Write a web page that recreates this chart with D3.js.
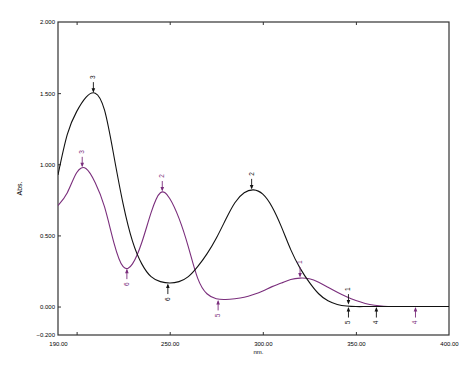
<!DOCTYPE html>
<html>
<head>
<meta charset="utf-8">
<script src="https://cdn.jsdelivr.net/npm/d3@7"></script>
<style>
  body { margin: 0; background: #fff; }
  svg { display: block; font-family: "Liberation Sans", Arial, sans-serif; }
  .axis path, .axis line { stroke: #333; }
  .axis text { font-size: 6px; fill: #000; }
</style>
</head>
<body>
<div id="chart"></div>
<script>
const W = 474, H = 365;
const margin = {top: 22, right: 25, bottom: 30, left: 58};

// wavelength grid (nm)
const wavelengths = [190,195,200,205,210,215,220,225,230,235,240,245,250,255,260,265,270,275,280,285,
                     290,295,300,305,310,315,320,325,330,335,340,345,350,355,360,365,370,375,380,385,
                     390,395,400];

// black spectrum
const absBlack = [0.925,1.21,1.37,1.47,1.50,1.38,1.06,0.72,0.46,0.30,0.21,0.175,0.165,0.175,0.21,0.28,
                  0.37,0.48,0.61,0.73,0.80,0.82,0.79,0.70,0.56,0.40,0.27,0.17,0.09,0.04,0.015,0.004,
                  0,0,0,0,0,0,0,0,0,0,0];

// purple spectrum
const absPurple = [0.71,0.80,0.94,0.97,0.87,0.70,0.45,0.28,0.30,0.45,0.66,0.80,0.76,0.62,0.42,0.20,
                   0.09,0.055,0.05,0.055,0.065,0.085,0.11,0.14,0.165,0.19,0.20,0.195,0.17,0.135,0.10,
                   0.068,0.042,0.022,0.009,0.002,0,0,0,0,0,0,0];

// peak / valley markers: label, wavelength, absorbance, peak?
const marksBlack = [
  ["3", 209, 1.50, true], ["6", 249, 0.165, false], ["2", 294, 0.82, true],
  ["1", 346, 0.01, true], ["5", 346, 0.0, false], ["4", 361, 0.0, false]
];
const marksPurple = [
  ["3", 203, 0.975, true], ["6", 227, 0.27, false], ["2", 246, 0.805, true],
  ["5", 276, 0.05, false], ["1", 320, 0.20, true], ["4", 382, 0.0, false]
];

const xLabels = [190, 250, 300, 350, 400];
const xTicks  = [200, 250, 300, 350];
const yLabels = [2.0, 1.5, 1.0, 0.5, 0.0, -0.2];
const yTicks  = [1.5, 1.0, 0.5, 0.0];

const colBlack = "#111", colPurple = "#7a2e7c";

const svg = d3.select("#chart").append("svg").attr("width", W).attr("height", H);

const x = d3.scaleLinear().domain([190, 400]).range([margin.left, W - margin.right]);
const y = d3.scaleLinear().domain([-0.2, 2.0]).range([H - margin.bottom, margin.top]);

// frame
svg.append("rect")
  .attr("x", x(190)).attr("y", y(2.0))
  .attr("width", x(400) - x(190)).attr("height", y(-0.2) - y(2.0))
  .attr("fill", "none").attr("stroke", "#333").attr("stroke-width", 1.2);

// x labels
svg.append("g").attr("class", "axis")
  .attr("transform", `translate(0,${y(-0.2)})`)
  .call(d3.axisBottom(x).tickValues(xLabels).tickSize(0).tickPadding(7).tickFormat(d3.format(".2f")))
  .call(g => g.select(".domain").remove());

// x tick marks, bottom and top, inward
svg.append("g").attr("class", "axis")
  .attr("transform", `translate(0,${y(-0.2)})`)
  .call(d3.axisBottom(x).tickValues(xTicks).tickSize(-3).tickFormat(""))
  .call(g => g.select(".domain").remove());
svg.append("g").attr("class", "axis")
  .attr("transform", `translate(0,${y(2.0)})`)
  .call(d3.axisTop(x).tickValues(xTicks).tickSize(-3).tickFormat(""))
  .call(g => g.select(".domain").remove());

// y labels
svg.append("g").attr("class", "axis")
  .attr("transform", `translate(${x(190)},0)`)
  .call(d3.axisLeft(y).tickValues(yLabels).tickSize(0).tickPadding(3).tickFormat(d3.format(".3f")))
  .call(g => g.select(".domain").remove());

// y tick marks, inward
svg.append("g").attr("class", "axis")
  .attr("transform", `translate(${x(190)},0)`)
  .call(d3.axisLeft(y).tickValues(yTicks).tickSize(-3).tickFormat(""))
  .call(g => g.select(".domain").remove());

// axis titles
svg.append("text")
  .attr("transform", `translate(22,${(y(2.0) + y(-0.2)) / 2 + 10}) rotate(-90)`)
  .attr("text-anchor", "middle").attr("font-size", 7).text("Abs.");
svg.append("text")
  .attr("x", (x(190) + x(400)) / 2 + 5).attr("y", H - 11)
  .attr("text-anchor", "middle").attr("font-size", 6).text("nm.");

// spectra
const line = d3.line()
  .x((d, i) => x(wavelengths[i]))
  .y(d => y(d))
  .curve(d3.curveNatural);

svg.append("clipPath").attr("id", "plot")
  .append("rect")
  .attr("x", x(190)).attr("y", y(2.0))
  .attr("width", x(400) - x(190)).attr("height", y(-0.2) - y(2.0));

svg.append("path").datum(absPurple)
  .attr("d", line).attr("fill", "none")
  .attr("stroke", colPurple).attr("stroke-width", 1.1)
  .attr("clip-path", "url(#plot)");
svg.append("path").datum(absBlack)
  .attr("d", line).attr("fill", "none")
  .attr("stroke", colBlack).attr("stroke-width", 1.1)
  .attr("clip-path", "url(#plot)");

// peak pick markers
function drawMarks(marks, color) {
  const g = svg.append("g");
  marks.forEach(([lab, wl, v, peak]) => {
    const px = x(wl), py = y(v);
    const s = peak ? -1 : 1;    // up for peaks, down for valleys
    g.append("line")
      .attr("x1", px).attr("x2", px)
      .attr("y1", py + s * 2).attr("y2", py + s * 11)
      .attr("stroke", color).attr("stroke-width", 0.9);
    g.append("path")
      .attr("d", `M${px},${py + s * 0.5}L${px - 1.8},${py + s * 5}L${px + 1.8},${py + s * 5}Z`)
      .attr("fill", color);
    g.append("text")
      .attr("transform", `translate(${px + 2},${py + s * 16}) rotate(-90)`)
      .attr("text-anchor", "middle")
      .attr("font-size", 6.5).attr("fill", color)
      .text(lab);
  });
}
drawMarks(marksPurple, colPurple);
drawMarks(marksBlack, colBlack);
</script>
</body>
</html>
